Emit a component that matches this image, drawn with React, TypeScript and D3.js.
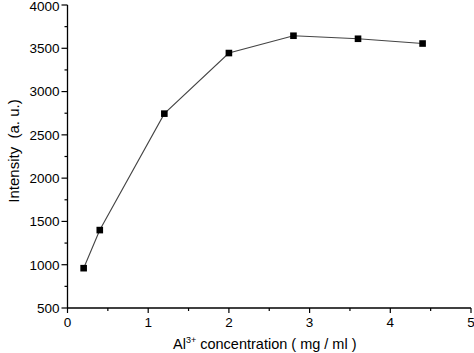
import React from "react";
import * as d3 from "d3";

const concentrations = [0.2, 0.4, 1.2, 2.0, 2.8, 3.6, 4.4];
const intensities = [960, 1400, 2745, 3445, 3645, 3610, 3555];
const xTicks = [0, 1, 2, 3, 4, 5];
const xMinorTicks = [0.5, 1.5, 2.5, 3.5, 4.5];
const yTicks = [500, 1000, 1500, 2000, 2500, 3000, 3500, 4000];
const yMinorTicks = [750, 1250, 1750, 2250, 2750, 3250, 3750];

const W = 474;
const H = 353;
const font = "'Liberation Sans', Arial, sans-serif";

export default function App() {
  const x = d3.scaleLinear().domain([0, 5]).range([67.5, 471]);
  const y = d3.scaleLinear().domain([500, 4000]).range([308, 5]);
  const line = d3
    .line<number>()
    .x((_, i) => x(concentrations[i]))
    .y((d) => y(d));

  return (
    <svg
      width={W}
      height={H}
      style={{ position: "absolute", left: 0, top: 0, background: "#fff" }}
      fontFamily={font}
    >
      <rect width={W} height={H} fill="#fff" />
      <line x1={x(0)} x2={x(5)} y1={y(500)} y2={y(500)} stroke="#000" strokeWidth={1.3} />
      <line x1={x(0)} x2={x(0)} y1={y(500)} y2={y(4000)} stroke="#000" strokeWidth={1.3} />
      {xTicks.map((t) => (
        <g key={"xt" + t}>
          <line x1={x(t)} x2={x(t)} y1={y(500)} y2={y(500) + 5} stroke="#000" strokeWidth={1.2} />
          <text x={x(t)} y={327} fontSize={13.5} textAnchor="middle" fill="#000">
            {t}
          </text>
        </g>
      ))}
      {xMinorTicks.map((t) => (
        <line key={"xm" + t} x1={x(t)} x2={x(t)} y1={y(500)} y2={y(500) + 3} stroke="#000" strokeWidth={1.2} />
      ))}
      {yTicks.map((t) => (
        <g key={"yt" + t}>
          <line x1={x(0) - 6} x2={x(0)} y1={y(t)} y2={y(t)} stroke="#000" strokeWidth={1.2} />
          <text x={x(0) - 8} y={Math.max(y(t) + 4.8, 10.5)} fontSize={13.5} textAnchor="end" fill="#000">
            {t}
          </text>
        </g>
      ))}
      {yMinorTicks.map((t) => (
        <line key={"ym" + t} x1={x(0) - 3} x2={x(0)} y1={y(t)} y2={y(t)} stroke="#000" strokeWidth={1.2} />
      ))}
      <path d={line(intensities) || ""} fill="none" stroke="#444" strokeWidth={1.1} />
      {intensities.map((v, i) => (
        <rect
          key={"p" + i}
          x={x(concentrations[i]) - 3.3}
          y={y(v) - 3.3}
          width={6.6}
          height={6.6}
          fill="#000"
        />
      ))}
      <text x={173} y={349} fontSize={14.5} fill="#000">
        Al
        <tspan fontSize={9} dy={-6}>3+</tspan>
        <tspan dy={6}> concentration ( mg / ml )</tspan>
      </text>
      <text
        transform={`translate(18.5, 151) rotate(-90)`}
        fontSize={15}
        textAnchor="middle"
        fill="#000"
      >
        {"Intensity\u00A0\u00A0(a. u.)"}
      </text>
    </svg>
  );
}
